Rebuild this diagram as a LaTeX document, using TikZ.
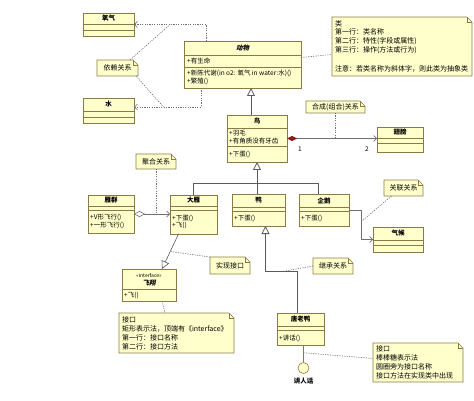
\documentclass[tikz,border=0pt]{standalone}
\usepackage{fontspec}
\setmainfont{Noto Sans CJK SC}
\newfontfamily\slanted{Noto Sans CJK SC}[FakeSlant=0.2]
\usetikzlibrary{arrows.meta}

\definecolor{classfill}{HTML}{FFFFCC}
\definecolor{classline}{HTML}{8C7A46}
\definecolor{linkgray}{HTML}{707070}
\definecolor{compred}{HTML}{8B1A1A}

\tikzset{
  classbox/.style={draw=classline, fill=classfill, inner sep=0pt, outer sep=0pt, line width=0.8pt},
  rule/.style={draw=classline, line width=0.6pt},
  cname/.style={font=\fontsize{6.5}{7}\selectfont\bfseries, inner sep=0pt},
  member/.style={font=\fontsize{6.5}{7.6}\selectfont, inner sep=0pt, anchor=west, align=left},
  notebox/.style={fill=classfill, inner sep=3pt, outer sep=0pt, font=\fontsize{7}{8.6}\selectfont, anchor=north west},
  noteline/.style={draw=classline, line width=0.6pt},
  notelink/.style={draw=linkgray, dash pattern=on 1.2pt off 1.2pt, line width=0.6pt},
  depend/.style={notelink, -{Straight Barb[length=3pt,width=6pt]}},
  plain/.style={draw=linkgray!80!black, line width=0.8pt},
  inherit/.style={plain, -{Triangle[length=8pt,width=8pt,fill=white]}},
  assoc/.style={draw=linkgray, line width=0.6pt, -{Straight Barb[length=3pt,width=6pt]}},
  comp/.style={assoc, {Diamond[length=10pt,width=5pt,fill=compred,color=compred]}-{Straight Barb[length=3pt,width=6pt]}},
  aggr/.style={assoc, {Diamond[length=11pt,width=6pt,fill=white]}-{Straight Barb[length=3pt,width=6pt]}},
  mult/.style={font=\fontsize{6.5}{7}\selectfont, inner sep=0pt},
}

% class box: name, x1, y1, x2, y2, rules
\newcommand{\umlclass}[6]{%
  \node[classbox, minimum width={#4-#2}, minimum height={#5-#3}] (#1) at ({(#2+#4)/2},{(#3+#5)/2}) {};
  \foreach \r in {#6} \draw[rule] (#2,\r) -- (#4,\r);
}
% dog ear of a note
\newcommand{\fold}[1]{%
  \fill[white] ([xshift=-5pt]#1.north east) -- (#1.north east) -- ([yshift=-5pt]#1.north east) -- cycle;
  \draw[noteline] (#1.north west) -- ([xshift=-5pt]#1.north east) -- ([yshift=-5pt]#1.north east) -- (#1.south east) -- (#1.south west) -- cycle;
  \draw[noteline] ([xshift=-5pt]#1.north east) |- ([yshift=-5pt]#1.north east);
}

\begin{document}
\begin{tikzpicture}[x=1pt, y=-1pt]
\useasboundingbox (0,0) rectangle (474,401);

% classes
\umlclass{yangqi}{83}{13}{134}{36}{24,30}
\node[cname] (yangqiN) at (108.5,18.5) {氧气};
\umlclass{shui}{83}{98}{134}{123}{111,117}
\node[cname] (shuiN) at (108.5,104.5) {水};

\umlclass{dongwu}{184}{41}{301}{88}{55,67}
\node[cname] (dongwuN) at (242.5,48) {\slanted\bfseries 动物};
\node[member] (dongwuA) at (187,61) {+有生命};
\node[member] (dongwuO) at (187,77.5) {+新陈代谢(in o2: 氧气 in water:水)()\\+繁殖()};

\umlclass{niao}{227}{115}{287}{162}{128,146}
\node[cname] (niaoN) at (257,121.5) {鸟};
\node[member] (niaoA) at (229,137) {+羽毛\\+有角质没有牙齿};
\node[member] (niaoO) at (229,154) {+下蛋()};

\umlclass{chibang}{377}{127}{423}{152}{138,143}
\node[cname] (chibangN) at (400,132.5) {翅膀};

\umlclass{yanqun}{88}{195}{134}{233}{206,210}
\node[cname] (yanqunN) at (111,200.5) {雁群};
\node[member] (yanqunO) at (90,221.5) {+V形飞行()\\+一形飞行()};

\umlclass{dayan}{170}{195}{217}{234}{206,210}
\node[cname] (dayanN) at (193.5,200.5) {大雁};
\node[member] (dayanO) at (172,222) {+下蛋()\\+飞()};

\umlclass{ya}{232}{194}{285}{226}{207,211}
\node[cname] (yaN) at (258.5,200.5) {鸭};
\node[member] (yaO) at (234,218.5) {+下蛋()};

\umlclass{qie}{299}{194}{349}{226}{207,211}
\node[cname] (qieN) at (324,200.5) {企鹅};
\node[member] (qieO) at (301,218.5) {+下蛋()};

\umlclass{qihou}{373}{227}{423}{252}{240,245}
\node[cname] (qihouN) at (398,233.5) {气候};

\umlclass{feixiang}{122}{269}{176}{301}{289}
\node[inner sep=0pt, font=\fontsize{5}{6}\selectfont] (feixiangS) at (149,275.5) {<<interface>>};
\node[cname] (feixiangN) at (149,283) {\slanted\bfseries 飞翔};
\node[member] (feixiangO) at (124,295) {+飞()};

\umlclass{tanglaoya}{277}{313}{324}{345}{326,330}
\node[cname] (tanglaoyaN) at (300.5,319.5) {唐老鸭};
\node[member] (tanglaoyaO) at (279,338) {+讲话()};

\node[circle, draw=classline, fill=classfill, line width=0.6pt, minimum size=11pt, inner sep=0pt] (lolli) at (303.5,368) {};
\node[cname] (lolliN) at (303.5,381.5) {讲人话};

% notes
\node[notebox, minimum width=41, minimum height=16] (yilai) at (97,60) {依赖关系};
\fold{yilai}
\node[notebox, minimum width=140, minimum height=59, text width=134, align=left] (leinote) at (332,17)
  {类\\第一行：类名称\\第二行：特性(字段或属性)\\第三行：操作(方法或行为)\\[11pt]注意：若类名称为斜体字，则此类为抽象类};
\fold{leinote}
\node[notebox, inner ysep=1pt, minimum width=59, minimum height=12] (hecheng) at (306,101) {合成(组合)关系};
\fold{hecheng}
\node[notebox, minimum width=40, minimum height=15] (juhe) at (136,154) {聚合关系};
\fold{juhe}
\node[notebox, minimum width=39, minimum height=16] (guanlian) at (384,180) {关联关系};
\fold{guanlian}
\node[notebox, minimum width=40, minimum height=17] (shixian) at (210,257) {实现接口};
\fold{shixian}
\node[notebox, minimum width=40, minimum height=16] (jicheng) at (313,258) {继承关系};
\fold{jicheng}
\node[notebox, inner ysep=2pt, minimum width=115, minimum height=40, text width=109, align=left, font=\fontsize{7}{9}\selectfont] (jiekou1) at (119,313)
  {接口\\矩形表示法，顶端有《interface》\\第一行：接口名称\\第二行：接口方法};
\fold{jiekou1}
\node[notebox, inner ysep=2pt, minimum width=90, minimum height=39, text width=84, align=left, font=\fontsize{7}{9}\selectfont] (jiekou2) at (373,343)
  {接口\\棒棒糖表示法\\圆圈旁为接口名称\\接口方法在实现类中出现};
\fold{jiekou2}

% dependency
\draw[depend] ([xshift=22pt]dongwu.north west) |- (yangqi.east) coordinate[pos=0.75] (dep1);
\draw[depend] ([xshift=17pt]dongwu.south west) |- ([yshift=3.5pt]shui.east) coordinate[pos=0.78] (dep2);
\draw[notelink] ([xshift=-8pt]yilai.north east) -- (dep1);
\draw[notelink] ([xshift=-2pt]yilai.south east) -- (dep2);
\draw[notelink] ([yshift=7pt]dongwu.east) -- ([yshift=-8pt]leinote.west);

% inheritance
\draw[inherit] ([xshift=-6pt]niao.north) -- ([xshift=-6pt]niao.north |- dongwu.south);
\draw[plain] (dayan.north) |- ([xshift=-6pt,yshift=11pt]qie.north) -- ([xshift=-6pt]qie.north);
\draw[inherit] (ya.north -| niao.south) -- (niao.south);
\draw[inherit] ([xshift=-3.5pt]tanglaoya.north) |- ([xshift=7pt,yshift=-45pt]ya.south) coordinate[pos=0.69] (jcpt)
  -- ([xshift=7pt]ya.south);
\draw[notelink] (jicheng.west) -- (jcpt);

% composition
\draw[comp] (niao.east) -- (niao.east -| chibang.west);
\node[mult] (m1) at (300,149) {1};
\node[mult] (m2) at (367,149) {2};
\draw[notelink] (hecheng.south) -- (hecheng.south |- niao.east);

% aggregation
\draw[aggr] (yanqun.east) -- (yanqun.east -| dayan.west);
\draw[notelink] (juhe.south) -- (juhe.south |- yanqun.east);

% association
\draw[assoc] (qie.east) -- ++(12,0) |- (qihou.west) coordinate[pos=0.2] (aspt);
\draw[notelink] ([xshift=-12pt]guanlian.south) -- (aspt);

% realization
\draw[inherit, line width=0.6pt] ([xshift=-15pt]dayan.south) -- ([xshift=13pt]feixiang.north) coordinate[pos=0.5] (realmid);
\draw[notelink] (shixian.north west) -- (realmid);
\draw[notelink] ([xshift=13pt]feixiang.south) -- ([xshift=-11.5pt]jiekou1.north);

% lollipop
\draw[rule] ([xshift=3pt]tanglaoya.south) -- (lolli.north) coordinate[pos=0.45] (stem);
\draw[notelink] (stem) -- ([yshift=4pt]jiekou2.west);
\end{tikzpicture}
\end{document}
